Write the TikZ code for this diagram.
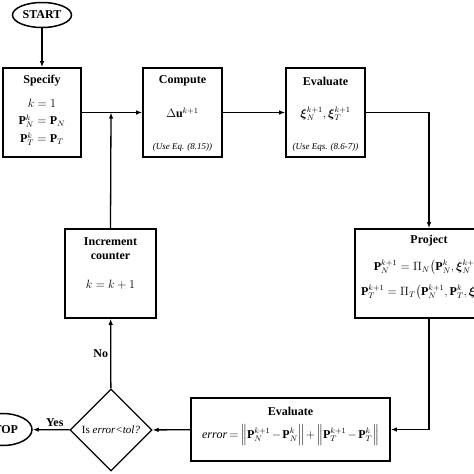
\documentclass[tikz,border=0pt]{standalone}
\usepackage{amsmath}
\usepackage{fontspec}
\setmainfont{Liberation Serif}
\usetikzlibrary{shapes.geometric,arrows.meta}
\begin{document}
\begin{tikzpicture}[x=1pt,y=-1pt,
  box/.style={draw, line width=1.6pt, inner sep=0pt},
  oval/.style={draw, ellipse, line width=1.5pt, inner sep=0pt, font=\bfseries\fontsize{12}{14}\selectfont},
  dec/.style={draw, diamond, line width=1.3pt, inner sep=0pt, minimum width=82pt, minimum height=82pt},
  ttl/.style={font=\bfseries\fontsize{12}{14}\selectfont, inner sep=0pt},
  eqn/.style={font=\fontsize{12}{14}\selectfont, inner sep=0pt},
  note/.style={font=\itshape\fontsize{9}{11}\selectfont, inner sep=0pt},
  lbl/.style={font=\bfseries\fontsize{12}{14}\selectfont, inner sep=2pt},
  arr/.style={line width=1.3pt, -{Latex[length=6pt,width=4.5pt]}}]
\clip (0,0) rectangle (474,474);
\fill[white] (0,0) rectangle (474,474);
% nodes
\node[oval, minimum width=59pt, minimum height=25pt] (start) at (42,15) {START};
\node[box, minimum width=78pt, minimum height=89pt] (spec) at (42,112.5) {};
\node[box, minimum width=79pt, minimum height=89pt] (comp) at (182.5,112.5) {};
\node[box, minimum width=79pt, minimum height=89pt] (eval) at (325.5,112.5) {};
\node[box, minimum width=148pt, minimum height=89pt] (proj) at (429,273.5) {};
\node[box, minimum width=199pt, minimum height=63pt] (eval2) at (290.5,429.5) {};
\node[dec] (dia) at (111,430) {};
\node[oval, minimum width=59pt, minimum height=32pt] (stop) at (2.5,429.5) {STOP};
\node[box, minimum width=91pt, minimum height=89pt] (inc) at (110.5,273.5) {};
\coordinate (join) at (111,112.5);
% texts
\node[ttl] (specT) at (42,81) {Specify};
\node[eqn] (specA) at (42,103) {$k=1$};
\node[eqn] (specB) at (42,121) {$\mathbf{P}_N^k=\mathbf{P}_N$};
\node[eqn] (specC) at (42,139) {$\mathbf{P}_T^k=\mathbf{P}_T$};
\node[ttl] (compT) at (182.5,81) {Compute};
\node[eqn] (compA) at (182.5,113) {$\Delta\mathbf{u}^{k+1}$};
\node[note] (compN) at (182.5,147) {(Use Eq. (8.15))};
\node[ttl] (evalT) at (325.5,81) {Evaluate};
\node[eqn] (evalA) at (325.5,114) {$\boldsymbol{\xi}_N^{k+1},\boldsymbol{\xi}_T^{k+1}$};
\node[note] (evalN) at (325.5,147) {(Use Eqs. (8.6-7))};
\node[ttl] (projT) at (429,241) {Project};
\node[eqn] (projA) at (429,267) {$\mathbf{P}_N^{k+1}=\Pi_N\bigl(\mathbf{P}_N^k,\boldsymbol{\xi}_N^{k+1}\bigr)$};
\node[eqn] (projB) at (429,292) {$\mathbf{P}_T^{k+1}=\Pi_T\bigl(\mathbf{P}_N^{k+1},\mathbf{P}_T^k,\boldsymbol{\xi}_T^{k+1}\bigr)$};
\node[ttl] (incT) at (110.5,242) {Increment};
\node[ttl] (incU) at (110.5,256) {counter};
\node[eqn] (incA) at (110.5,285) {$k=k+1$};
\node[ttl] (eval2T) at (290.5,411) {Evaluate};
\node[eqn] (eval2A) at (290.5,435) {\medmuskip=2mu\thickmuskip=3mu$\mathit{error}=\Bigl\|\mathbf{P}_N^{k+1}-\mathbf{P}_N^k\Bigr\|+\Bigl\|\mathbf{P}_T^{k+1}-\mathbf{P}_T^k\Bigr\|$};
\node[font=\fontsize{11}{13}\selectfont, inner sep=0pt] (diaT) at (111,430) {Is \textit{error<tol?}};
% connectors
\draw[arr] (start) -- (spec);
\draw[arr] (spec) -- (comp);
\draw[arr] (comp) -- (eval);
\draw[arr] (eval.east) -| (proj.north);
\draw[arr] (proj.south) |- (eval2.east);
\draw[arr] (eval2) -- (dia);
\draw[arr] (dia) -- node[lbl, above, pos=0.4] {Yes} (stop);
\draw[arr] (dia) -- node[lbl, left] {No} (inc);
\draw[arr] (inc.north) -- (join);
\end{tikzpicture}
\end{document}
